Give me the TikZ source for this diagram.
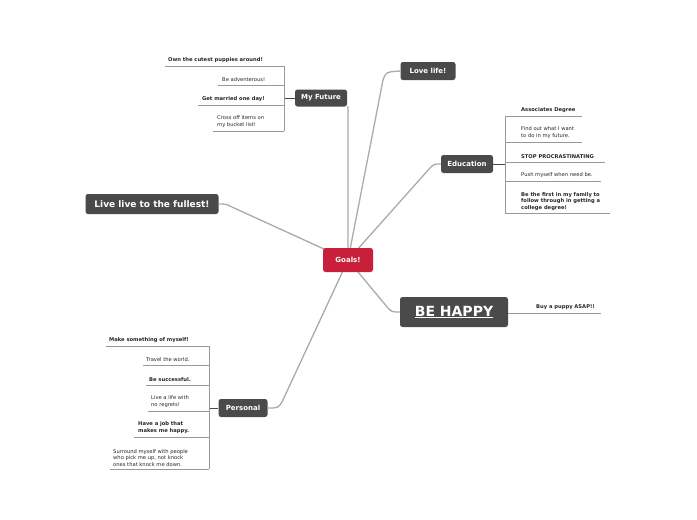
\documentclass[tikz,border=0pt]{standalone}
\usepackage{fontspec}
\setmainfont{DejaVu Sans}
\definecolor{boxc}{HTML}{4A4A4A}
\definecolor{goalc}{HTML}{C8203A}
\definecolor{linec}{HTML}{AAAAAA}
\definecolor{leafl}{HTML}{999999}
\begin{document}
\begin{tikzpicture}[x=1pt,y=-1pt,
  topic/.style={fill=boxc,text=white,font=\bfseries\fontsize{7}{8}\selectfont,rounded corners=2.5pt,inner sep=0pt,minimum height=18pt},
  branch/.style={draw=linec,line width=1.3pt},
  leafline/.style={draw=leafl,line width=0.6pt},
  bracket/.style={draw=boxc,line width=0.8pt},
  leaf/.style={font=\fontsize{5.2}{6.8}\selectfont,text=black!85,inner sep=0pt,align=left},
  bleaf/.style={leaf,font=\bfseries\fontsize{5.2}{6.8}\selectfont}]
\useasboundingbox (0,0) rectangle (697,520);
\node[topic,minimum width=55pt] (love) at (428,71) {Love life!};
\node[topic,minimum width=52pt,minimum height=17pt] (fut) at (321,98) {My Future};
\node[topic,minimum width=52pt] (edu) at (467,164) {Education};
\node[topic,minimum width=133pt,minimum height=20pt,font=\bfseries\fontsize{9}{10}\selectfont] (live) at (152,204) {Live live to the fullest!};
\node[topic,minimum width=108pt,minimum height=30pt,font=\bfseries\fontsize{14}{15}\selectfont] (hap) at (454,312) {\underline{BE HAPPY}};
\node[topic,minimum width=49pt] (per) at (243,408) {Personal};
\coordinate (gc) at (348,260);
% branches
\draw[branch] (gc) -- (348,107) -- (fut.south east);
\draw[branch] (gc) -- (383,80) .. controls (386,72) .. (love.west);
\draw[branch] (gc) -- (430,168) .. controls (434,164) .. (edu.west);
\draw[branch] (gc) -- (232,207) .. controls (226,204) .. (live.east);
\draw[branch] (gc) -- (388,308) .. controls (392,312) .. (hap.west);
\draw[branch] (gc) -- (282,402) .. controls (278,408) .. (per.east);
\node[topic,fill=goalc,minimum width=50pt,minimum height=24pt] (g) at (gc) {Goals!};
% My Future leaves
\coordinate (fb) at (284,98);
\draw[bracket] (fut.west) -- (fb);
\draw[leafline] (284,66) -- (284,131);
\draw[leafline] (165,66) -- (284,66);
\draw[leafline] (218,85) -- (284,85);
\draw[leafline] (198,105) -- (284,105);
\draw[leafline] (213,131) -- (284,131);
\node[bleaf,anchor=south west] (f1) at (168,63) {Own the cutest puppies around!};
\node[leaf,anchor=south west] (f2) at (222,82) {Be adventerous!};
\node[bleaf,anchor=south west] (f3) at (202,102) {Get married one day!};
\node[leaf,anchor=south west] (f4) at (217,128) {Cross off items on\\my bucket list!};
% Education leaves
\coordinate (eb) at (505,164);
\draw[bracket] (edu.east) -- (eb);
\draw[leafline] (505,116) -- (505,213);
\draw[leafline] (505,116) -- (582,116);
\draw[leafline] (505,142) -- (582,142);
\draw[leafline] (505,162) -- (605,162);
\draw[leafline] (505,181) -- (601,181);
\draw[leafline] (505,213) -- (610,213);
\node[bleaf,anchor=south west] (e1) at (521,113) {Associates Degree};
\node[leaf,anchor=south west] (e2) at (521,139) {Find out what I want\\to do in my future.};
\node[bleaf,anchor=south west] (e3) at (521,159) {STOP PROCRASTINATING};
\node[leaf,anchor=south west] (e4) at (521,178) {Push myself when need be.};
\node[bleaf,anchor=south west] (e5) at (521,211) {Be the first in my family to\\follow through in getting a\\college degree!};
% Be happy leaf
\coordinate (hb) at (601,313);
\draw[leafline] (hap.east) ++(0,1) -- (hb);
\node[bleaf,anchor=south west] (h1) at (536,310) {Buy a puppy ASAP!!};
% Personal leaves
\coordinate (pb) at (209,408);
\draw[bracket] (per.west) -- (pb);
\draw[leafline] (209,346) -- (209,469);
\draw[leafline] (106,346) -- (209,346);
\draw[leafline] (143,365) -- (209,365);
\draw[leafline] (146,385) -- (209,385);
\draw[leafline] (148,411) -- (209,411);
\draw[leafline] (134,437) -- (209,437);
\draw[leafline] (110,469) -- (209,469);
\node[bleaf,anchor=south west] (p1) at (109,343) {Make something of myself!};
\node[leaf,anchor=south west] (p2) at (146,362) {Travel the world.};
\node[bleaf,anchor=south west] (p3) at (149,382) {Be successful.};
\node[leaf,anchor=south west] (p4) at (151,408) {Live a life with\\no regrets!};
\node[bleaf,anchor=south west] (p5) at (138,434) {Have a job that\\makes me happy.};
\node[leaf,anchor=south west] (p6) at (113,467) {Surround myself with people\\who pick me up, not knock\\ones that knock me down.};
\end{tikzpicture}
\end{document}
